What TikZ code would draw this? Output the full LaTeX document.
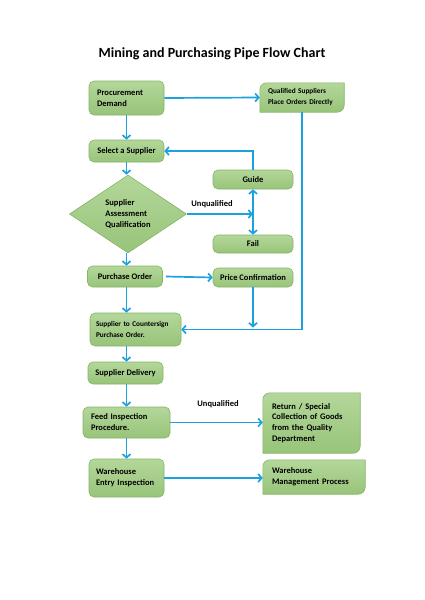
\documentclass[tikz,border=0pt]{standalone}
\usepackage{fontspec}
\setmainfont{Carlito}
\usetikzlibrary{arrows.meta,shapes.geometric,calc}
\definecolor{boxline}{HTML}{86B566}
\definecolor{boxtop}{HTML}{B3D79A}
\definecolor{boxbot}{HTML}{98C47A}
\definecolor{arr}{HTML}{1BA1DF}
\tikzset{
  box/.style={draw=boxline, line width=0.6pt, top color=boxtop, bottom color=boxbot,
    rounded corners=5pt, inner sep=0pt, align=center,
    font=\bfseries\fontsize{8.5}{11}\selectfont},
  lbox/.style={box, align=left},
  sbox/.style={draw=boxline, line width=0.6pt, top color=boxtop, bottom color=boxbot},
  snode/.style={inner sep=0pt, align=left, font=\bfseries\fontsize{8.5}{10.7}\selectfont},
  flow/.style={draw=arr, line width=1.7pt, -{Straight Barb[length=3.5pt,width=8pt]}},
  lab/.style={font=\bfseries\fontsize{8.5}{10}\selectfont, inner sep=0pt}
}
\begin{document}
\begin{tikzpicture}[x=1pt,y=-1pt]
\useasboundingbox[fill=white] (0,0) rectangle (424,600);
\node[font=\bfseries\fontsize{14}{16}\selectfont, inner sep=0pt] (title) at (212,54) {Mining and Purchasing Pipe Flow Chart};
\coordinate (col) at (126.5,0);

% main boxes
\node[lbox, minimum width=75pt, minimum height=34pt, text width=59pt, inner xsep=8pt] (proc) at (126.5,98) {Procurement\\Demand};
\node[box, minimum width=75pt, minimum height=22pt] (sel) at (126.5,151) {Select a Supplier};
\node[box, minimum width=80pt, minimum height=19pt] (guide) at (253,179.5) {Guide};
\node[draw=boxline, line width=0.6pt, top color=boxtop, bottom color=boxbot, diamond, minimum width=117pt, minimum height=78pt, inner sep=0pt, align=left, font=\bfseries\fontsize{8.5}{11}\selectfont] (dia) at (128,214) {Supplier\\Assessment\\Qualification};
\node[box, minimum width=80pt, minimum height=18pt] (fail) at (253,244) {Fail};
\node[box, minimum width=75pt, minimum height=21pt] (po) at (125,276.5) {Purchase Order};
\node[box, minimum width=80pt, minimum height=19pt] (price) at (253,277.5) {Price Confirmation};
\node[lbox, minimum width=91pt, minimum height=33pt, text width=79pt, inner xsep=6pt, font=\bfseries\fontsize{7.3}{11}\selectfont] (counter) at (135.5,329.5) {Supplier to Countersign\\Purchase Order.};
\node[box, minimum width=75pt, minimum height=22pt] (deliv) at (125.5,373) {Supplier Delivery};
\node[lbox, minimum width=87pt, minimum height=31pt, text width=71pt, inner xsep=8pt] (feed) at (126.5,422.5) {Feed Inspection\\Procedure.};
\node[lbox, minimum width=75pt, minimum height=38pt, text width=61pt, inner xsep=7pt] (wei) at (126.5,478) {Warehouse\\Entry Inspection};

% special-corner boxes
\node[snode, minimum width=84pt, minimum height=29pt, text width=68pt, inner xsep=8pt] (qual) at (302,97.5) {};
\node[snode, minimum width=97pt, minimum height=60pt, text width=79pt, inner xsep=9pt] (ret) at (311.5,423) {};
\node[snode, minimum width=102pt, minimum height=34pt, text width=84pt, inner xsep=9pt] (wmp) at (314,477) {};
\foreach \n in {qual,ret,wmp}{
  \path[sbox] (\n.south west) -- ([yshift=-7pt]\n.north west)
    arc[start angle=180,end angle=90,radius=7pt] -- (\n.north east)
    -- ([yshift=7pt]\n.south east) arc[start angle=0,end angle=-90,radius=7pt] -- cycle;
}
\node[snode, text width=68pt, font=\bfseries\fontsize{7.3}{11}\selectfont] (qualt) at (qual) {Qualified Suppliers\\Place Orders Directly};
\node[snode, text width=79pt] (rett) at (ret) {Return / Special\\Collection of Goods\\from the Quality\\Department};
\node[snode, text width=84pt, font=\bfseries\fontsize{8.5}{11}\selectfont] (wmpt) at (wmp) {Warehouse\\Management Process};

% labels
\node[lab] (u1) at (212,204) {Unqualified};
\node[lab] (u2) at (218,404) {Unqualified};

% connectors
\path[flow] (proc.east) -- (qual.west);
\path[flow] (col |- proc.south) -- (col |- sel.north);
\path[flow] (guide.north) |- (sel.east);
\path[flow] (col |- sel.south) -- (col |- dia.north);
\coordinate (gd) at (guide.south |- dia.east);
\path[flow] (dia.east) -- (gd);
\path[draw=arr, line width=1.7pt, {Straight Barb[length=3.5pt,width=8pt]}-{Straight Barb[length=3.5pt,width=8pt]}] (guide.south) -- (fail.north);
\path[flow] (col |- dia.south) -- (col |- po.north);
\path[flow] ([xshift=3pt]po.east) -- (price.west);
\coordinate (pc) at (price.south |- counter.east);
\path[flow] (price.south) -- ([yshift=2pt]pc);
\path[flow] (qual.south) |- (counter.east);
\path[flow] (col |- po.south) -- (col |- counter.north);
\path[flow] (col |- counter.south) -- (col |- deliv.north);
\path[flow] (col |- deliv.south) -- (col |- feed.north);
\path[flow] (feed.east) -- (feed.east -| ret.west);
\path[flow] (col |- feed.south) -- (col |- wei.north);
\path[flow] (wei.east) -- (wei.east -| wmp.west);
\end{tikzpicture}
\end{document}
